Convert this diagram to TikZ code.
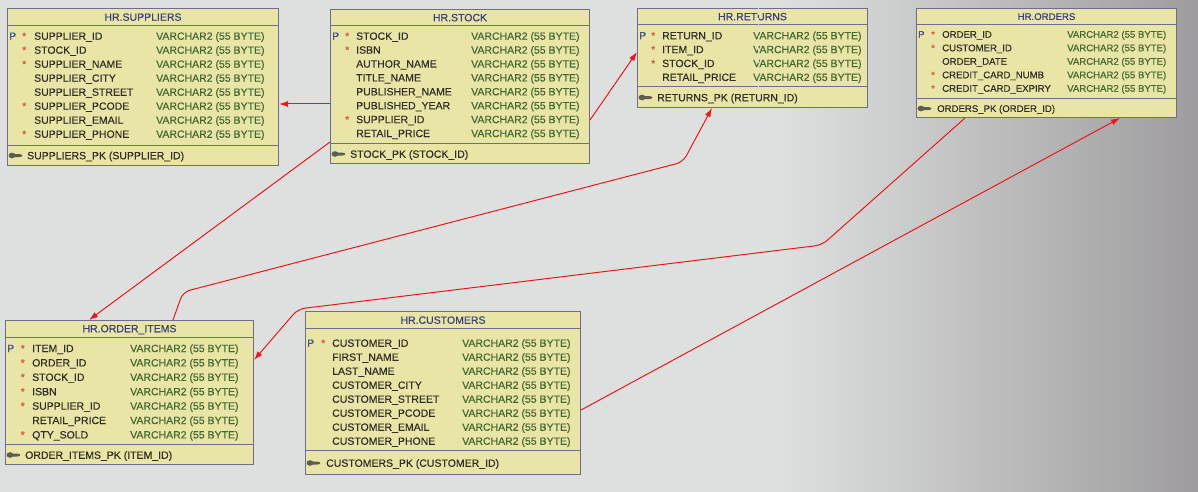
\documentclass[tikz,border=0pt]{standalone}
\usepackage{fontspec}
\setmainfont{Liberation Sans}
\newfontfamily\erfamily{Liberation Sans}[FakeBold=0.35]
\usepackage{xcolor}
\usepackage{tikz}
\usetikzlibrary{arrows.meta}

\definecolor{paperl}{RGB}{222,224,224}
\definecolor{paperr}{RGB}{158,156,158}
\definecolor{tblfill}{RGB}{233,229,166}
\definecolor{tblline}{RGB}{108,110,138}
\definecolor{titlec}{RGB}{58,62,122}
\definecolor{namec}{RGB}{48,46,38}
\definecolor{typec}{RGB}{66,104,48}
\definecolor{pkc}{RGB}{70,82,150}
\definecolor{starc}{RGB}{214,92,58}
\definecolor{fkred}{RGB}{240,22,22}
\definecolor{keyc}{RGB}{92,92,82}

\newcommand\erfont{\erfamily\fontsize{10.5}{12}\selectfont}
\newcommand\erfontsm{\erfamily\fontsize{9.6}{11}\selectfont}

\tikzset{
  tbl/.style={draw=tblline, fill=tblfill, line width=1pt, anchor=north west, inner sep=0pt},
  tblsep/.style={draw=tblline, line width=1pt},
  tbltitle/.style={font=\erfont, text=titlec, inner sep=0pt, text height=7.5pt, text depth=0pt},
  colname/.style={anchor=west, font=\erfont, text=namec, inner sep=0pt, text height=7.5pt, text depth=0pt},
  coltype/.style={colname, text=typec},
  pkmark/.style={colname, text=pkc},
  nnmark/.style={colname, text=starc},
  smaller/.style={font=\erfontsm, text height=6.9pt},
  fk/.style={draw=fkred, line width=1pt, -{Latex[length=9pt,width=6pt]}},
  pagebrk/.style={draw=white!75!gray, line width=0.7pt, dash pattern=on 3pt off 3pt},
  pkkey/.pic={
    \fill[keyc] (0,0) ellipse (3.5 and 2.8);
    \fill[keyc] (0,-1.6) -- (9,-1.2) -- (10.5,0) -- (9,1.4) -- (0,1.8) -- cycle;
  }
}

\begin{document}
\begin{tikzpicture}[x=1pt,y=-1pt]
  \useasboundingbox (0,0) rectangle (1198,492);
  \fill[paperl] (0,0) rectangle (1198,492);
  \shade[left color=paperl, right color=paperr] (780,0) rectangle (1198,492);

  \node[tbl, minimum width=271pt, minimum height=157pt] (suppliers) at (7,8) {};
  \draw[tblsep] ([yshift=-18pt]suppliers.north west) -- ([yshift=-18pt]suppliers.north east);
  \draw[tblsep] ([yshift=21pt]suppliers.south west) -- ([yshift=21pt]suppliers.south east);
  \node[tbltitle] (suppliers-t) at ([yshift=-9pt]suppliers.north) {HR.SUPPLIERS};
  \foreach \n [count=\i] in {SUPPLIER\_ID,STOCK\_ID,SUPPLIER\_NAME,SUPPLIER\_CITY,SUPPLIER\_STREET,SUPPLIER\_PCODE,SUPPLIER\_EMAIL,SUPPLIER\_PHONE}{
    \node[colname] (suppliers-n\i) at ([xshift=27pt,yshift={-28pt-14pt*(\i-1)}]suppliers.north west) {\n};
    \node[coltype] (suppliers-v\i) at ([xshift=149pt,yshift={-28pt-14pt*(\i-1)}]suppliers.north west) {VARCHAR2 (55 BYTE)};
  }
  \node[pkmark] (suppliers-p) at ([xshift=2pt,yshift=-28pt]suppliers.north west) {P};
  \foreach \i in {1,2,3,6,8}
    \node[nnmark] (suppliers-s\i) at ([xshift=15pt,yshift={-28pt-14pt*(\i-1)}]suppliers.north west) {*};
  \pic at ([xshift=5pt,yshift=10.5pt]suppliers.south west) {pkkey};
  \node[colname] (suppliers-k) at ([xshift=20pt,yshift=10.5pt]suppliers.south west) {SUPPLIERS\_PK (SUPPLIER\_ID)};

  \node[tbl, minimum width=259pt, minimum height=154pt] (stock) at (330,9) {};
  \draw[tblsep] ([yshift=-17pt]stock.north west) -- ([yshift=-17pt]stock.north east);
  \draw[tblsep] ([yshift=20.5pt]stock.south west) -- ([yshift=20.5pt]stock.south east);
  \node[tbltitle] (stock-t) at ([yshift=-8.5pt]stock.north) {HR.STOCK};
  \foreach \n [count=\i] in {STOCK\_ID,ISBN,AUTHOR\_NAME,TITLE\_NAME,PUBLISHER\_NAME,PUBLISHED\_YEAR,SUPPLIER\_ID,RETAIL\_PRICE}{
    \node[colname] (stock-n\i) at ([xshift=26pt,yshift={-27pt-13.9pt*(\i-1)}]stock.north west) {\n};
    \node[coltype] (stock-v\i) at ([xshift=141pt,yshift={-27pt-13.9pt*(\i-1)}]stock.north west) {VARCHAR2 (55 BYTE)};
  }
  \node[pkmark] (stock-p) at ([xshift=2pt,yshift=-27pt]stock.north west) {P};
  \foreach \i in {1,2,7}
    \node[nnmark] (stock-s\i) at ([xshift=15pt,yshift={-27pt-13.9pt*(\i-1)}]stock.north west) {*};
  \pic at ([xshift=5pt,yshift=10pt]stock.south west) {pkkey};
  \node[colname] (stock-k) at ([xshift=20pt,yshift=10pt]stock.south west) {STOCK\_PK (STOCK\_ID)};

  \node[tbl, minimum width=230pt, minimum height=99pt] (returns) at (637,8) {};
  \draw[tblsep] ([yshift=-17pt]returns.north west) -- ([yshift=-17pt]returns.north east);
  \draw[tblsep] ([yshift=21pt]returns.south west) -- ([yshift=21pt]returns.south east);
  \node[tbltitle] (returns-t) at ([yshift=-8.5pt]returns.north) {HR.RETURNS};
  \foreach \n [count=\i] in {RETURN\_ID,ITEM\_ID,STOCK\_ID,RETAIL\_PRICE}{
    \node[colname] (returns-n\i) at ([xshift=25pt,yshift={-27.5pt-13.9pt*(\i-1)}]returns.north west) {\n};
    \node[coltype] (returns-v\i) at ([xshift=116pt,yshift={-27.5pt-13.9pt*(\i-1)}]returns.north west) {VARCHAR2 (55 BYTE)};
  }
  \node[pkmark] (returns-p) at ([xshift=2pt,yshift=-27.5pt]returns.north west) {P};
  \foreach \i in {1,2,3}
    \node[nnmark] (returns-s\i) at ([xshift=14pt,yshift={-27.5pt-13.9pt*(\i-1)}]returns.north west) {*};
  \pic at ([xshift=5pt,yshift=10.5pt]returns.south west) {pkkey};
  \node[colname] (returns-k) at ([xshift=20pt,yshift=10.5pt]returns.south west) {RETURNS\_PK (RETURN\_ID)};

  \node[tbl, minimum width=260pt, minimum height=109pt] (orders) at (916,8) {};
  \draw[tblsep] ([yshift=-17pt]orders.north west) -- ([yshift=-17pt]orders.north east);
  \draw[tblsep] ([yshift=19.5pt]orders.south west) -- ([yshift=19.5pt]orders.south east);
  \node[tbltitle, smaller] (orders-t) at ([yshift=-8.5pt]orders.north) {HR.ORDERS};
  \foreach \n [count=\i] in {ORDER\_ID,CUSTOMER\_ID,ORDER\_DATE,CREDIT\_CARD\_NUMB,CREDIT\_CARD\_EXPIRY}{
    \node[colname, smaller] (orders-n\i) at ([xshift=26pt,yshift={-26.3pt-13.5pt*(\i-1)}]orders.north west) {\n};
    \node[coltype, smaller] (orders-v\i) at ([xshift=151pt,yshift={-26.3pt-13.5pt*(\i-1)}]orders.north west) {VARCHAR2 (55 BYTE)};
  }
  \node[pkmark, smaller] (orders-p) at ([xshift=2pt,yshift=-26.3pt]orders.north west) {P};
  \foreach \i in {1,2,4,5}
    \node[nnmark, smaller] (orders-s\i) at ([xshift=15pt,yshift={-26.3pt-13.5pt*(\i-1)}]orders.north west) {*};
  \pic at ([xshift=5pt,yshift=9.5pt]orders.south west) {pkkey};
  \node[colname, smaller] (orders-k) at ([xshift=21pt,yshift=9.5pt]orders.south west) {ORDERS\_PK (ORDER\_ID)};

  \node[tbl, minimum width=248pt, minimum height=144pt] (orderitems) at (5,320) {};
  \draw[tblsep] ([yshift=-17pt]orderitems.north west) -- ([yshift=-17pt]orderitems.north east);
  \draw[tblsep] ([yshift=21pt]orderitems.south west) -- ([yshift=21pt]orderitems.south east);
  \node[tbltitle] (orderitems-t) at ([yshift=-8.5pt]orderitems.north) {HR.ORDER\_ITEMS};
  \foreach \n [count=\i] in {ITEM\_ID,ORDER\_ID,STOCK\_ID,ISBN,SUPPLIER\_ID,RETAIL\_PRICE,QTY\_SOLD}{
    \node[colname] (orderitems-n\i) at ([xshift=27pt,yshift={-28.3pt-14.4pt*(\i-1)}]orderitems.north west) {\n};
    \node[coltype] (orderitems-v\i) at ([xshift=125pt,yshift={-28.3pt-14.4pt*(\i-1)}]orderitems.north west) {VARCHAR2 (55 BYTE)};
  }
  \node[pkmark] (orderitems-p) at ([xshift=2pt,yshift=-28.3pt]orderitems.north west) {P};
  \foreach \i in {1,2,3,4,5,7}
    \node[nnmark] (orderitems-s\i) at ([xshift=15.5pt,yshift={-28.3pt-14.4pt*(\i-1)}]orderitems.north west) {*};
  \pic at ([xshift=5pt,yshift=10pt]orderitems.south west) {pkkey};
  \node[colname] (orderitems-k) at ([xshift=20pt,yshift=10pt]orderitems.south west) {ORDER\_ITEMS\_PK (ITEM\_ID)};

  \node[tbl, minimum width=275pt, minimum height=163pt] (customers) at (305,311) {};
  \draw[tblsep] ([yshift=-17.5pt]customers.north west) -- ([yshift=-17.5pt]customers.north east);
  \draw[tblsep] ([yshift=25pt]customers.south west) -- ([yshift=25pt]customers.south east);
  \node[tbltitle] (customers-t) at ([yshift=-9pt]customers.north) {HR.CUSTOMERS};
  \foreach \n [count=\i] in {CUSTOMER\_ID,FIRST\_NAME,LAST\_NAME,CUSTOMER\_CITY,CUSTOMER\_STREET,CUSTOMER\_PCODE,CUSTOMER\_EMAIL,CUSTOMER\_PHONE}{
    \node[colname] (customers-n\i) at ([xshift=27pt,yshift={-32pt-14pt*(\i-1)}]customers.north west) {\n};
    \node[coltype] (customers-v\i) at ([xshift=157pt,yshift={-32pt-14pt*(\i-1)}]customers.north west) {VARCHAR2 (55 BYTE)};
  }
  \node[pkmark] (customers-p) at ([xshift=2pt,yshift=-32pt]customers.north west) {P};
  \node[nnmark] (customers-s1) at ([xshift=16pt,yshift=-32pt]customers.north west) {*};
  \pic at ([xshift=5pt,yshift=12pt]customers.south west) {pkkey};
  \node[colname] (customers-k) at ([xshift=21pt,yshift=12pt]customers.south west) {CUSTOMERS\_PK (CUSTOMER\_ID)};

  \draw[pagebrk] (758,0) -- (758,492);

  \coordinate (oi-bend1) at (183,292);
  \coordinate (oi-bend2) at (683,162);
  \coordinate (or-bend1) at (822,245);
  \coordinate (or-bend2) at (298,309);

  \draw[fk] ([yshift=-95pt]stock.north west) -- ([yshift=-96pt]suppliers.north east);
  \draw[fk] ([yshift=-133pt]stock.north west) -- ([xshift=84pt]orderitems.north west);
  \draw[fk] ([yshift=-111pt]stock.north east) -- ([yshift=-44pt]returns.north west);
  \draw[fk, rounded corners=7pt] ([xshift=168pt]orderitems.north west) -- (oi-bend1) -- (oi-bend2) -- ([xshift=75pt]returns.south west);
  \draw[fk, rounded corners=7pt] ([xshift=49pt]orders.south west) -- (or-bend1) -- (or-bend2) -- ([yshift=-40pt]orderitems.north east);
  \draw[fk] ([yshift=-99pt]customers.north east) -- ([xshift=204pt]orders.south west);
\end{tikzpicture}
\end{document}
